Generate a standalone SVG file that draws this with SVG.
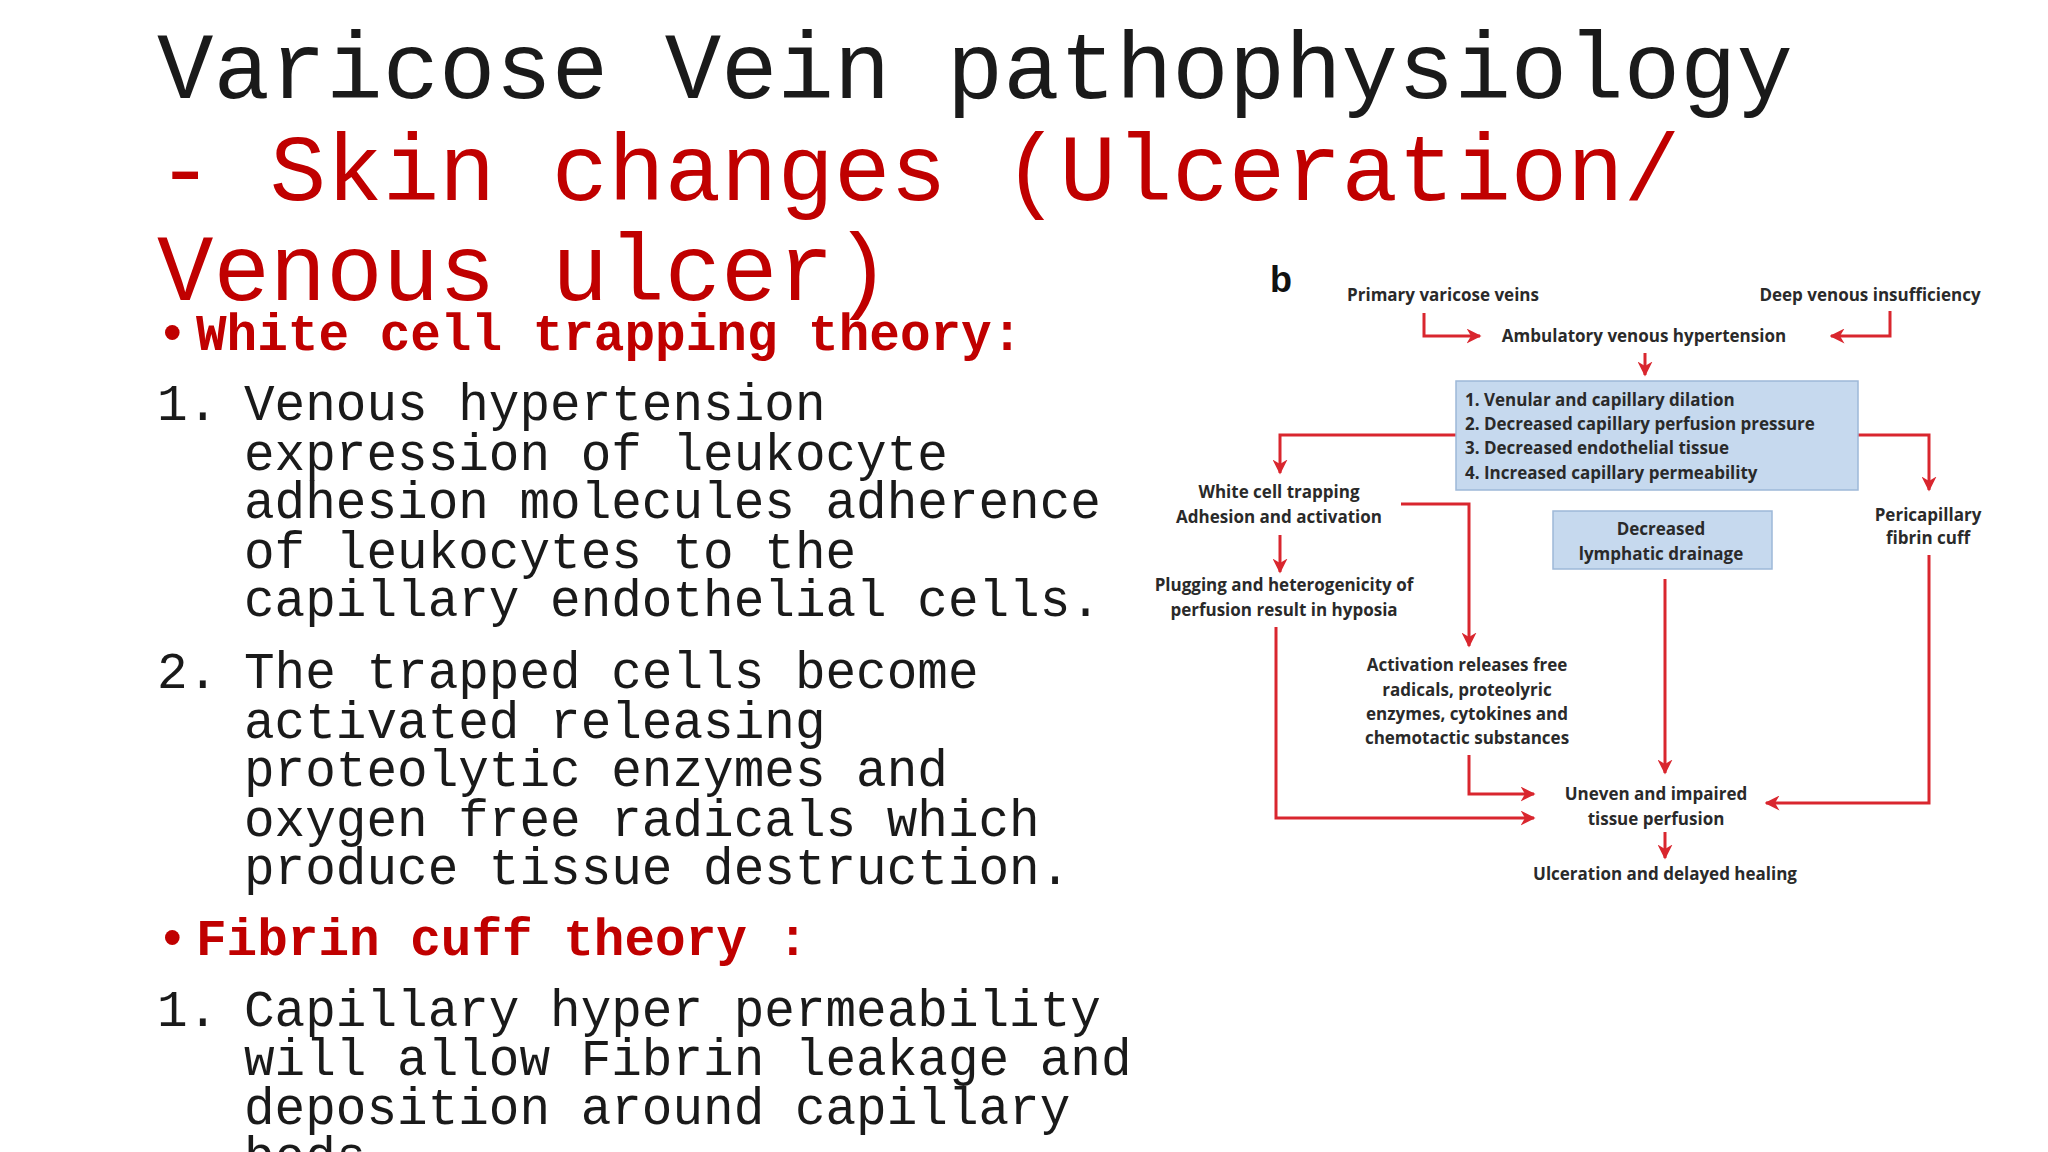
<svg xmlns="http://www.w3.org/2000/svg" width="2048" height="1152" viewBox="0 0 2048 1152">
<defs>
<marker id="ah" viewBox="0 0 10 10" refX="9" refY="5" markerWidth="5" markerHeight="5" orient="auto"><path d="M0,0 L10,5 L0,10 L3,5 z" fill="#d9262e"/></marker>
<style>
.t{font-family:"Liberation Mono","DejaVu Sans Mono",monospace;fill:#1a1a1a}
.h{font-size:94px}
.r{fill:#c00000}
.b{font-size:51px}
.bb{font-size:51px;font-weight:bold;fill:#c00000}
.d{font-family:"Open Sans","Liberation Sans",sans-serif;font-weight:bold;font-size:17px;fill:#2a2a2a;text-anchor:middle}
.l{text-anchor:start}
.box{fill:#c6d9ee;stroke:#9db8d8;stroke-width:1.5}
.c{fill:none;stroke:#d9262e;stroke-width:3;marker-end:url(#ah)}
</style>
</defs>
<rect width="2048" height="1152" fill="#ffffff"/>
<g id="text">
<text class="t h" x="157" y="98">Varicose Vein pathophysiology</text>
<text class="t h r" x="157" y="200">- Skin changes (Ulceration/</text>
<text class="t h r" x="157" y="300">Venous ulcer)</text>
<text class="t bb" x="157" y="350">•</text><text class="t bb" x="196" y="350">White cell trapping theory:</text>
<text class="t b" x="157" y="420">1.</text>
<text class="t b" x="244" y="420">Venous hypertension</text>
<text class="t b" x="244" y="470">expression of leukocyte</text>
<text class="t b" x="244" y="518">adhesion molecules adherence</text>
<text class="t b" x="244" y="568">of leukocytes to the</text>
<text class="t b" x="244" y="616">capillary endothelial cells.</text>
<text class="t b" x="157" y="688">2.</text>
<text class="t b" x="244" y="688">The trapped cells become</text>
<text class="t b" x="244" y="738">activated releasing</text>
<text class="t b" x="244" y="786">proteolytic enzymes and</text>
<text class="t b" x="244" y="836">oxygen free radicals which</text>
<text class="t b" x="244" y="884">produce tissue destruction.</text>
<text class="t bb" x="157" y="955">•</text><text class="t bb" x="196" y="955">Fibrin cuff theory :</text>
<text class="t b" x="157" y="1026">1.</text>
<text class="t b" x="244" y="1026">Capillary hyper permeability</text>
<text class="t b" x="244" y="1075">will allow Fibrin leakage and</text>
<text class="t b" x="244" y="1124">deposition  around capillary</text>
<text class="t b" x="244" y="1173">beds.</text>
</g>
<text x="1270" y="292" font-family="Liberation Sans,sans-serif" font-weight="bold" font-size="36" fill="#111">b</text>
<g id="connectors">
<path class="c" d="M1424,313 V336 H1480"/>
<path class="c" d="M1890,311 V336 H1831"/>
<path class="c" d="M1645,353 V375"/>
<path class="c" d="M1456,435 H1280 V473"/>
<path class="c" d="M1858,435 H1929 V490"/>
<path class="c" d="M1280,535 V572"/>
<path class="c" d="M1401,504 H1469 V646"/>
<path class="c" d="M1665,579 V773"/>
<path class="c" d="M1929,555 V803 H1766"/>
<path class="c" d="M1469,755 V794 H1534"/>
<path class="c" d="M1276,627 V818 H1534"/>
<path class="c" d="M1665,832 V858"/>
</g>
<g id="n-primary"><text class="d" x="1443" y="301">Primary varicose veins</text></g>
<g id="n-deep"><text class="d" x="1870" y="301">Deep venous insufficiency</text></g>
<g id="n-ambulatory"><text class="d" x="1644" y="342">Ambulatory venous hypertension</text></g>
<g id="n-box"><rect class="box" x="1456" y="381" width="402" height="109"/>
<text class="d l" x="1465" y="406">1. Venular and capillary dilation</text>
<text class="d l" x="1465" y="430">2. Decreased capillary perfusion pressure</text>
<text class="d l" x="1465" y="454">3. Decreased endothelial tissue</text>
<text class="d l" x="1465" y="479">4. Increased capillary permeability</text></g>
<g id="n-white"><text class="d" x="1279" y="498">White cell trapping</text><text class="d" x="1279" y="523">Adhesion and activation</text></g>
<g id="n-plug"><text class="d" x="1284" y="591">Plugging and heterogenicity of</text><text class="d" x="1284" y="616">perfusion result in hyposia</text></g>
<g id="n-lymph"><rect class="box" x="1553" y="511" width="219" height="58"/><text class="d" x="1661" y="535">Decreased</text><text class="d" x="1661" y="560">lymphatic drainage</text></g>
<g id="n-peri"><text class="d" x="1928" y="521">Pericapillary</text><text class="d" x="1928" y="544">fibrin cuff</text></g>
<g id="n-activation"><text class="d" x="1467" y="671">Activation releases free</text><text class="d" x="1467" y="696">radicals, proteolyric</text><text class="d" x="1467" y="720">enzymes, cytokines and</text><text class="d" x="1467" y="744">chemotactic substances</text></g>
<g id="n-uneven"><text class="d" x="1656" y="800">Uneven and impaired</text><text class="d" x="1656" y="825">tissue perfusion</text></g>
<g id="n-ulcer"><text class="d" x="1665" y="880">Ulceration and delayed healing</text></g>
</svg>
